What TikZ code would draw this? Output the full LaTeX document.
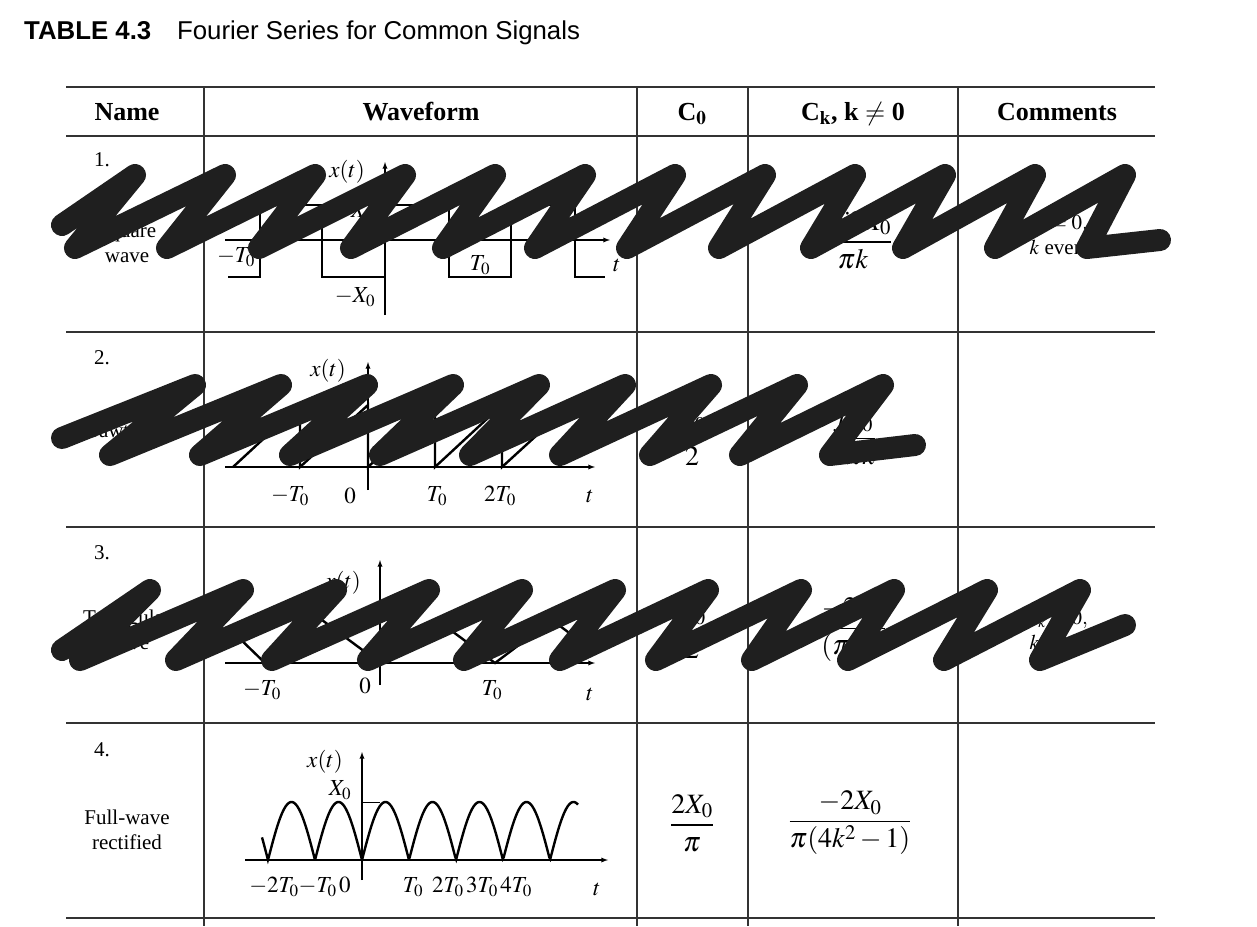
\documentclass[tikz,border=0pt]{standalone}
\usepackage{fix-cm}
\usepackage{amsmath}
\usepackage{mathptmx}
\usepackage{fontspec}
\setmainfont{Liberation Serif}
\newfontfamily\titlefont{Liberation Sans}
\begin{document}
\begin{tikzpicture}[x=1pt,y=-1pt,
  lbl/.style={font=\fontsize{23}{26}\selectfont, inner sep=0pt},
  txt/.style={font=\fontsize{21}{25}\selectfont, inner sep=0pt, align=center},
  frc/.style={font=\fontsize{28}{32}\selectfont, inner sep=0pt},
  hdr/.style={font=\fontsize{26}{28}\selectfont\bfseries, inner sep=0pt},
  wave/.style={line width=2.4pt},
  ax/.style={line width=1.3pt,-latex},
  rule/.style={line width=1.4pt, draw=black!80},
  scrib/.style={line width=22pt, line cap=round, line join=round, draw=black!88}]
\useasboundingbox (0,0) rectangle (1257,926);
\node[anchor=west, inner sep=0pt, font=\titlefont\fontsize{25.8}{30}\selectfont] (title) at (24,33) {\textbf{TABLE 4.3}\quad Fourier Series for Common Signals};
% table rules
\foreach \yy/\w in {87/2.2,136/1.4,332/1.4,527/1.4,723/1.4,918/2.2}
  \draw[line width=\w pt, black!80] (66,\yy) -- (1155,\yy);
\foreach \xx in {204,637,748,958}
  \draw[rule] (\xx,87) -- (\xx,926);
% header
\node[hdr] (h1) at (127,112) {Name};
\node[hdr] (h2) at (421,112) {Waveform};
\node[hdr] (h3) at (692,114) {C$_{\mathbf 0}$};
\node[hdr] (h4) at (853,114) {C$_{\mathbf k}$, k $\boldsymbol{\neq}$ 0};
\node[hdr] (h5) at (1057,112) {Comments};
% row 1
\node[txt] (n1) at (102,160) {1.};
\node[txt] (r1) at (127,243) {Square\\wave};
\draw[ax] (385,315) -- (385,162);
\draw[ax] (225,240) -- (610,240);
\draw[wave] (228,277) -- (260,277) -- (260,205) -- (322,205) -- (322,277) -- (385,277) -- (385,205) -- (449,205) -- (449,277) -- (511,277) -- (511,205) -- (575,205) -- (575,277) -- (605,277);
\node[lbl] (x1) at (347,172) {$x(t)$};
\node[lbl] (a1) at (362,212) {$X_0$};
\node[lbl] (b1) at (355,297) {$-X_0$};
\node[lbl] (c1) at (236,257) {$-T_0$};
\node[lbl] (d1) at (480,265) {$T_0$};
\node[lbl] (e1) at (617,265) {$t$};
\node[frc] (k1) at (853,240) {$\dfrac{-j2X_0}{\pi k}$};
\node[txt] (m1) at (1057,235) {$C_k=0,$\\$k$ even};
% row 2
\node[txt] (n2) at (102,358) {2.};
\node[txt] (r2) at (127,430) {Sawtooth};
\draw[ax] (368,490) -- (368,362);
\draw[ax] (225,467) -- (595,467);
\draw[wave] (233,467) -- (300,405) -- (300,467) -- (368,405) -- (368,467) -- (435,405) -- (435,467) -- (502,405) -- (502,467) -- (560,414);
\node[lbl] (x2) at (328,371) {$x(t)$};
\node[lbl] (a2) at (345,402) {$X_0$};
\node[lbl] (c2) at (290,496) {$-T_0$};
\node[lbl] (o2) at (350,496) {$0$};
\node[lbl] (d2) at (437,496) {$T_0$};
\node[lbl] (f2) at (500,496) {$2T_0$};
\node[lbl] (e2) at (590,496) {$t$};
\node[frc] (z2) at (692,437) {$\dfrac{X_0}{2}$};
\node[frc] (k2) at (853,437) {$\dfrac{jX_0}{2\pi k}$};
% row 3
\node[txt] (n3) at (102,553) {3.};
\node[txt] (r3) at (127,630) {Triangular\\wave};
\draw[ax] (380,685) -- (380,560);
\draw[ax] (225,663) -- (595,663);
\draw[wave] (235,634) -- (265,663) -- (322,620) -- (380,663) -- (437,620) -- (495,663) -- (552,620) -- (580,641);
\draw[line width=1pt] (380,620) -- (400,620);
\node[lbl] (x3) at (343,583) {$x(t)$};
\node[lbl] (c3) at (262,690) {$-T_0$};
\node[lbl] (o3) at (365,686) {$0$};
\node[lbl] (d3) at (492,690) {$T_0$};
\node[lbl] (e3) at (590,694) {$t$};
\node[frc] (z3) at (692,630) {$\dfrac{X_0}{2}$};
\node[frc] (k3) at (853,630) {$\dfrac{-2X_0}{(\pi k)^2}$};
\node[txt] (m3) at (1057,630) {$C_k=0,$\\$k$ even};
% scribbles
\draw[scrib] (62,225) \foreach \i in {0,...,11} { -- (135+\i*90,175) -- (75+\i*92,248)} -- (1160,240);
\draw[scrib] (62,438) \foreach \i in {0,...,8} { -- (195+\i*86,385) -- (110+\i*90,455)} -- (915,445);
\draw[scrib] (62,650) \foreach \i in {0,...,10} { -- (150+\i*93,590) -- (80+\i*96,660)} -- (1125,625);
% row 4
\node[txt] (n4) at (102,750) {4.};
\node[txt] (r4) at (127,830) {Full-wave\\rectified};
\draw[ax] (362,880) -- (362,752);
\draw[ax] (245,860) -- (608,860);
\draw[line width=1pt] (362,802) -- (380,802);
\draw[wave] plot[domain=262:578,samples=320] (\x,{860-58*abs(sin(3.8298*(\x-268)))});
\node[lbl] (x4) at (325,762) {$x(t)$};
\node[lbl] (a4) at (340,790) {$X_0$};
\node[lbl] (c4) at (300,887) {$-2T_0{-}T_0\,0$};
\node[lbl] (d4) at (413,887) {$T_0$};
\node[lbl] (f4) at (482,887) {$2T_0\,3T_0\,4T_0$};
\node[lbl] (e4) at (597,889) {$t$};
\node[frc] (z4) at (692,823) {$\dfrac{2X_0}{\pi}$};
\node[frc] (k4) at (850,823) {$\dfrac{-2X_0}{\pi(4k^2-1)}$};
\end{tikzpicture}
\end{document}
